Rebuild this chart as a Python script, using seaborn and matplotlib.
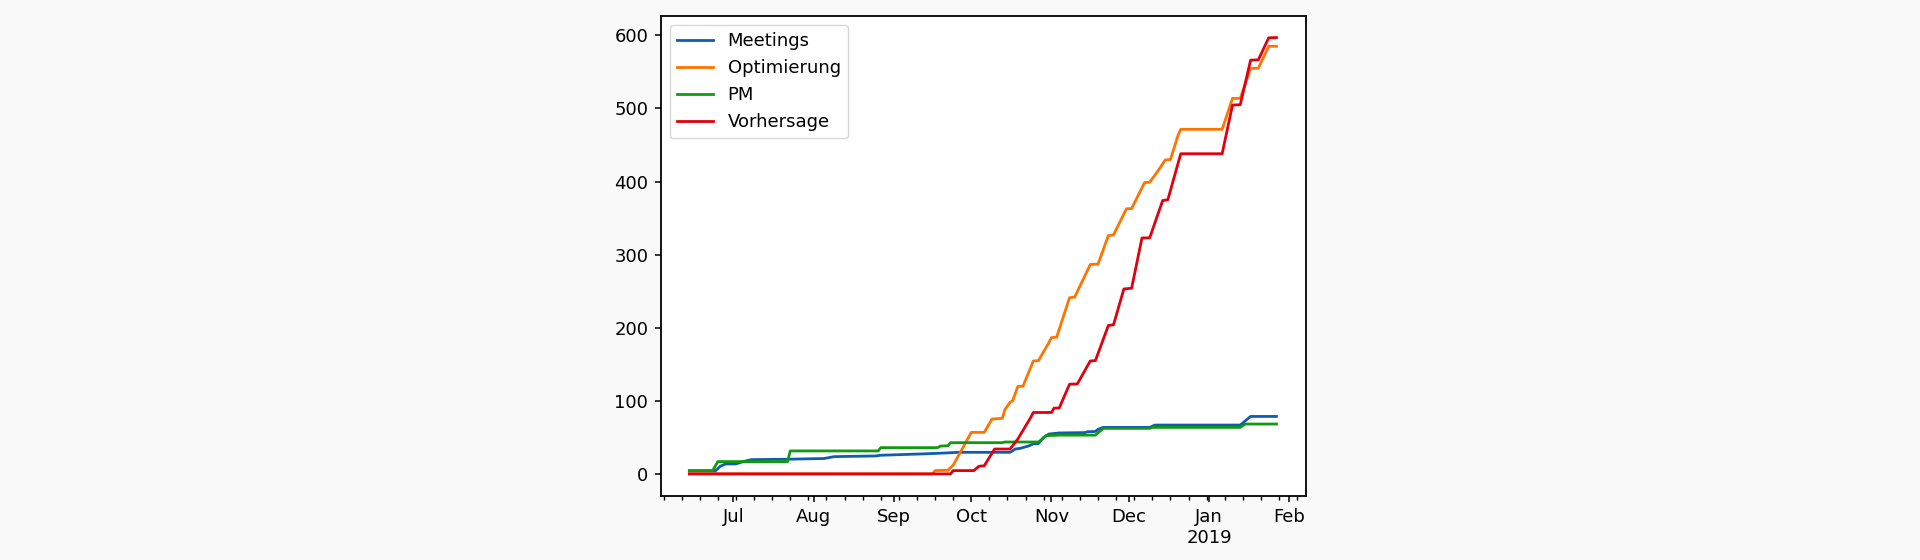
import numpy as np
import pandas as pd
import matplotlib
matplotlib.use("Agg")
import matplotlib.pyplot as plt
import matplotlib.dates as mdates
from matplotlib.ticker import FuncFormatter
import seaborn as sns

series_names = ["Meetings", "Optimierung", "PM", "Vorhersage"]

meetings_dates = ["2018-06-14", "2018-06-24", "2018-06-26", "2018-06-28", "2018-07-02", "2018-07-05",
                  "2018-07-08", "2018-07-21", "2018-08-05", "2018-08-09", "2018-08-25", "2018-08-27",
                  "2018-09-12", "2018-09-21", "2018-09-26", "2018-10-16", "2018-10-18", "2018-10-20",
                  "2018-10-23", "2018-10-25", "2018-10-27", "2018-10-29", "2018-10-31", "2018-11-04",
                  "2018-11-14", "2018-11-15", "2018-11-18", "2018-11-19", "2018-11-21", "2018-12-09",
                  "2018-12-11", "2019-01-13", "2019-01-15", "2019-01-17", "2019-01-27"]
meetings_vals = [4, 4, 10.5, 13.6, 13.6, 17,
                 19.5, 20, 21, 23.6, 24.5, 25.5,
                 27.3, 28.6, 29.5, 29.5, 34, 35,
                 38, 41, 41.5, 50, 54.5, 56,
                 56.5, 57.7, 58, 61, 63.6, 63.6,
                 66.8, 66.8, 72.7, 78.6, 78.6]

opt_dates = ["2018-06-14", "2018-09-16", "2018-09-17", "2018-09-22", "2018-09-24", "2018-10-01",
             "2018-10-06", "2018-10-09", "2018-10-13", "2018-10-14", "2018-10-16", "2018-10-17",
             "2018-10-19", "2018-10-21", "2018-10-25", "2018-10-27", "2018-10-31", "2018-11-01",
             "2018-11-03", "2018-11-08", "2018-11-10", "2018-11-16", "2018-11-19", "2018-11-23",
             "2018-11-25", "2018-11-30", "2018-12-02", "2018-12-07", "2018-12-09", "2018-12-12",
             "2018-12-15", "2018-12-17", "2018-12-20", "2018-12-21", "2019-01-06", "2019-01-10",
             "2019-01-13", "2019-01-17", "2019-01-20", "2019-01-24", "2019-01-27"]
opt_vals = [0, 0, 4.5, 5, 12, 56.8,
            56.8, 75, 76, 88, 98, 100,
            119.6, 120, 154.5, 155, 179.6, 186.4,
            187, 241, 242, 286.4, 287, 326,
            327, 362.7, 363, 398.6, 399, 413.6,
            429.5, 430, 463.7, 471.4, 471.4, 513.7,
            513.7, 554.6, 555, 585, 585]

pm_dates = ["2018-06-14", "2018-06-23", "2018-06-25", "2018-07-22", "2018-07-23", "2018-08-26",
            "2018-08-27", "2018-09-18", "2018-09-19", "2018-09-22", "2018-09-23", "2018-10-13",
            "2018-10-14", "2018-10-27", "2018-10-30", "2018-11-04", "2018-11-18", "2018-11-21",
            "2018-12-09", "2018-12-10", "2019-01-13", "2019-01-15", "2019-01-27"]
pm_vals = [4.5, 4.5, 16.8, 16.8, 31.4, 31.4,
           35.9, 35.9, 38, 38.5, 42.7, 42.7,
           43.6, 43.6, 52.3, 53, 53, 62.3,
           62.3, 63.6, 63.6, 68.2, 68.2]

vor_dates = ["2018-06-14", "2018-09-23", "2018-09-24", "2018-10-02", "2018-10-04", "2018-10-06",
             "2018-10-10", "2018-10-16", "2018-10-19", "2018-10-24", "2018-10-25", "2018-11-01",
             "2018-11-02", "2018-11-04", "2018-11-08", "2018-11-11", "2018-11-16", "2018-11-18",
             "2018-11-23", "2018-11-25", "2018-11-29", "2018-12-02", "2018-12-06", "2018-12-09",
             "2018-12-14", "2018-12-16", "2018-12-21", "2019-01-06", "2019-01-10", "2019-01-13",
             "2019-01-17", "2019-01-20", "2019-01-24", "2019-01-27"]
vor_vals = [0, 0, 4.5, 4.5, 10.5, 11,
            34, 34, 47.7, 77.3, 84, 84,
            90, 90, 122.7, 123, 154.5, 155,
            203, 204, 253, 254, 322.7, 323,
            374, 375, 438, 438, 504.6, 505,
            566, 566.5, 596.6, 597]

colors = ["#0f5cb5", "#ff7400", "#0f9a0f", "#e0000f"]

plt.rcParams.update({
    "font.size": 13,
    "xtick.major.size": 4.5,
    "ytick.major.size": 4.5,
    "xtick.minor.size": 2.6,
    "xtick.major.width": 1.1,
    "ytick.major.width": 1.1,
    "xtick.minor.width": 1.0,
    "xtick.major.pad": 4.5,
    "ytick.major.pad": 4.5,
})

frames = []
for name, d, v in [("Meetings", meetings_dates, meetings_vals),
                   ("Optimierung", opt_dates, opt_vals),
                   ("PM", pm_dates, pm_vals),
                   ("Vorhersage", vor_dates, vor_vals)]:
    frames.append(pd.DataFrame({"date": pd.to_datetime(d), "value": v, "series": name}))
df = pd.concat(frames, ignore_index=True)

fig = plt.figure(figsize=(19.2, 5.6), dpi=100, facecolor="#f9f9f9")
ax = fig.add_axes([660.7 / 1920, 1 - 495.7 / 560, 645.5 / 1920, 480 / 560])
ax.set_facecolor("white")

sns.lineplot(data=df, x="date", y="value", hue="series", hue_order=series_names,
             palette=colors, estimator=None, linewidth=2.0, ax=ax)

ax.set_xlim(pd.Timestamp("2018-06-02 22:00"), pd.Timestamp("2019-02-07 12:00"))
ax.set_ylim(-29.85, 626.85)
ax.set_yticks([0, 100, 200, 300, 400, 500, 600])

ax.xaxis.set_major_locator(mdates.MonthLocator())
ax.xaxis.set_minor_locator(mdates.WeekdayLocator(byweekday=mdates.MO))


def fmt(x, pos):
    dt = mdates.num2date(x)
    s = dt.strftime("%b")
    if dt.month == 1:
        s += "\n" + str(dt.year)
    return s


ax.xaxis.set_major_formatter(FuncFormatter(fmt))
ax.tick_params(axis="both", labelsize=13)
ax.set_xlabel("")
ax.set_ylabel("")
for sp in ax.spines.values():
    sp.set_color("black")
    sp.set_linewidth(1.3)

handles, labels = ax.get_legend_handles_labels()
ax.legend(handles, labels, loc="upper left", fontsize=13)

fig.savefig("out.png", dpi=100, facecolor=fig.get_facecolor())
